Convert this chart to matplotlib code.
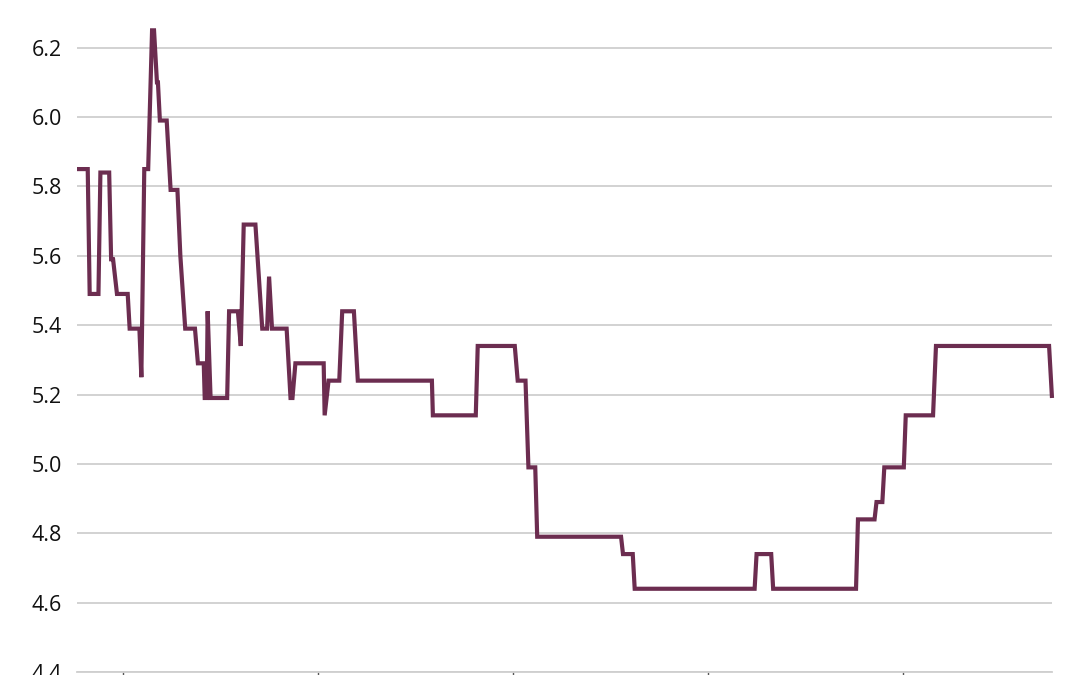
import matplotlib
matplotlib.use("Agg")
import matplotlib.pyplot as plt

# vertices of the rate line: decimal year and rate (%)
years = [2009.53, 2009.64, 2009.66, 2009.75, 2009.77, 2009.86, 2009.88, 2009.90,
         2009.94, 2010.05, 2010.07, 2010.17, 2010.19, 2010.22, 2010.26, 2010.30,
         2010.32, 2010.35, 2010.36, 2010.38, 2010.45, 2010.49, 2010.56, 2010.59,
         2010.64, 2010.74, 2010.77, 2010.83, 2010.84, 2010.86, 2010.87, 2010.90,
         2011.07, 2011.09, 2011.18, 2011.21, 2011.24, 2011.36, 2011.43, 2011.48,
         2011.50, 2011.53, 2011.68, 2011.72, 2011.74, 2011.77, 2012.06, 2012.07,
         2012.11, 2012.22, 2012.25, 2012.37, 2012.41, 2013.17, 2013.18, 2013.62,
         2013.64, 2014.02, 2014.05, 2014.13, 2014.16, 2014.23, 2014.25, 2015.11,
         2015.13, 2015.23, 2015.25, 2016.48, 2016.50, 2016.65, 2016.67, 2017.52,
         2017.54, 2017.71, 2017.73, 2017.79, 2017.81, 2018.01, 2018.03, 2018.31,
         2018.34, 2019.50, 2019.53]
rates = [5.85, 5.85, 5.49, 5.49, 5.84, 5.84, 5.59, 5.59,
         5.49, 5.49, 5.39, 5.39, 5.25, 5.85, 5.85, 6.25,
         6.25, 6.10, 6.10, 5.99, 5.99, 5.79, 5.79, 5.60,
         5.39, 5.39, 5.29, 5.29, 5.19, 5.19, 5.44, 5.19,
         5.19, 5.44, 5.44, 5.34, 5.69, 5.69, 5.39, 5.39,
         5.54, 5.39, 5.39, 5.19, 5.19, 5.29, 5.29, 5.14,
         5.24, 5.24, 5.44, 5.44, 5.24, 5.24, 5.14, 5.14,
         5.34, 5.34, 5.24, 5.24, 4.99, 4.99, 4.79, 4.79,
         4.74, 4.74, 4.64, 4.64, 4.74, 4.74, 4.64, 4.64,
         4.84, 4.84, 4.89, 4.89, 4.99, 4.99, 5.14, 5.14,
         5.34, 5.34, 5.19]

y_ticks = [4.4, 4.6, 4.8, 5.0, 5.2, 5.4, 5.6, 5.8, 6.0, 6.2]
x_ticks = [2010, 2012, 2014, 2016, 2018]

plt.rcParams["font.family"] = ["Open Sans", "DejaVu Sans"]

fig = plt.figure(figsize=(10.8, 6.75), dpi=100)
ax = fig.add_axes([77 / 1080, 3 / 675, 975 / 1080, 659 / 675])

ax.plot(years, rates, color="#6c2d50", lw=3.0, solid_joinstyle="miter",
        solid_capstyle="butt", zorder=3, clip_on=False)

ax.set_xlim(2009.53, 2019.53)
ax.set_ylim(4.4, 6.3)
ax.set_yticks(y_ticks)
ax.set_yticklabels([f"{v:.1f}" for v in y_ticks])
ax.set_xticks(x_ticks)
ax.set_xticklabels([])

ax.grid(axis="y", color="#cfcfcf", lw=1.3)
ax.set_axisbelow(True)
for side in ["top", "right", "left"]:
    ax.spines[side].set_visible(False)
ax.spines["bottom"].set_color("#cfcfcf")
ax.spines["bottom"].set_linewidth(1.3)

ax.tick_params(axis="y", length=0, pad=11, labelsize=15.5, labelcolor="#111111")
ax.tick_params(axis="x", length=6, width=1, color="#555555", direction="out")

fig.savefig("out.png", dpi=100)
